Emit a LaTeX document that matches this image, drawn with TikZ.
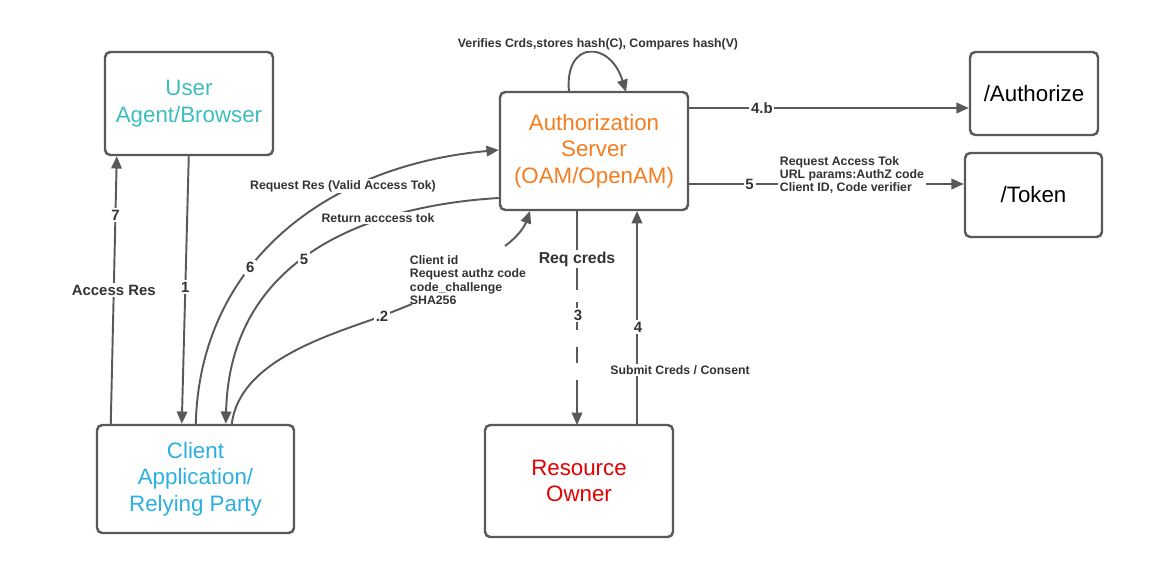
\documentclass[tikz,border=0pt]{standalone}
\usepackage{fontspec}
\setmainfont{Liberation Sans}
\usetikzlibrary{arrows.meta}
\definecolor{ln}{HTML}{595959}
\definecolor{cy}{HTML}{3DBDC0}
\definecolor{bl}{HTML}{2AB0E0}
\definecolor{og}{HTML}{F57C1F}
\begin{document}
\begin{tikzpicture}[x=0.02cm,y=-0.02cm,
 box/.style={draw=ln,line width=1.4pt,rounded corners=3pt,inner sep=0pt,align=center,font=\fontsize{12.7}{15}\selectfont},
 arr/.style={draw=ln,line width=1.1pt,-{Triangle[length=7pt,width=6pt]}},
 lab/.style={fill=white,inner sep=1pt,text=black!80,font=\bfseries\fontsize{7}{7.6}\selectfont,align=left},
 num/.style={fill=white,inner sep=1pt,text=black!80,font=\bfseries\fontsize{8.5}{9}\selectfont}]
\useasboundingbox (0,0) rectangle (1176,582);
\node[box,minimum width=168*0.02cm,minimum height=103*0.02cm,text=cy] (ua) at (189,103.5) {User\\Agent/Browser};
\node[box,minimum width=188*0.02cm,minimum height=118*0.02cm,text=og] (as) at (594,151) {Authorization\\Server\\(OAM/OpenAM)};
\node[box,minimum width=128*0.02cm,minimum height=83*0.02cm] (az) at (1034,93.5) {/Authorize};
\node[box,minimum width=137*0.02cm,minimum height=84*0.02cm] (tk) at (1033.5,195) {/Token};
\node[box,minimum width=197*0.02cm,minimum height=108*0.02cm,text=bl] (ca) at (195.5,479) {Client\\Application/\\Relying Party};
\node[box,minimum width=188*0.02cm,minimum height=112*0.02cm,text=red!90!black] (ro) at (579,481) {Resource\\Owner};
% 7
\path[arr] ([xshift=15*0.02cm]ca.north west) -- ([xshift=13*0.02cm]ua.south west) node[num,pos=0.78]{7} node[num,pos=0.5]{Access Res};
% 1
\draw[arr] ([xshift=85*0.02cm]ua.south west) -- node[num,pos=0.49]{1} ([xshift=86*0.02cm]ca.north west);
% 6
\draw[arr] ([xshift=100*0.02cm]ca.north west) .. controls (200,260) and (330,165) .. (as.west |- 0,150) node[num,pos=0.38]{6};
\node[lab] (l6) at (343,186) {Request Res (Valid Access Tok)};
% 5 return
\draw[arr] (as.west |- 0,198) .. controls (380,205) and (230,250) .. ([xshift=130*0.02cm]ca.north west) node[num,pos=0.55]{5};
\node[lab] (l5) at (378,218) {Return acccess tok};
% 2
\node[lab] (l2) at (468,280) {Client id\\ Request authz code\\ code\_challenge\\ SHA256};
\coordinate (p2) at (530,211);
\draw[draw=ln,line width=1.1pt] ([xshift=136*0.02cm]ca.north west) .. controls (240,360) and (330,335) .. (382,316) node[num]{.2} -- (412,304);
\draw[arr] (505,246) .. controls (516,238) and (524,228) .. (p2);
% 3 and 4
\draw[arr] (577,210) -- (577,425);
\path (577,259) node[num,font=\bfseries\fontsize{9}{10}\selectfont]{Req creds};
\draw[white,line width=2pt] (577,290)--(577,302) (577,330)--(577,347) (577,363)--(577,380);
\node[num] at (578,315) {3};
\draw[arr] (637,425) -- (637,211);
\node[num] at (638,327) {4};
\node[lab] at (680,370) {Submit Creds / Consent};
% 4.b
\draw[arr] (as.east |- 0,108) -- node[num,pos=0.26]{4.b} (az.west |- 0,108);
% 5 token
\draw[arr] (as.east |- 0,184) -- node[num,pos=0.22]{5} (tk.west |- 0,184);
\node[lab] at (852,175) {Request Access Tok\\URL params:AuthZ code\\Client ID, Code verifier};
% loop
\draw[arr] (569,92) .. controls (564,40) and (610,40) .. (626,92);
\node[lab] at (598,44) {Verifies Crds,stores hash(C), Compares hash(V)};
\end{tikzpicture}
\end{document}
